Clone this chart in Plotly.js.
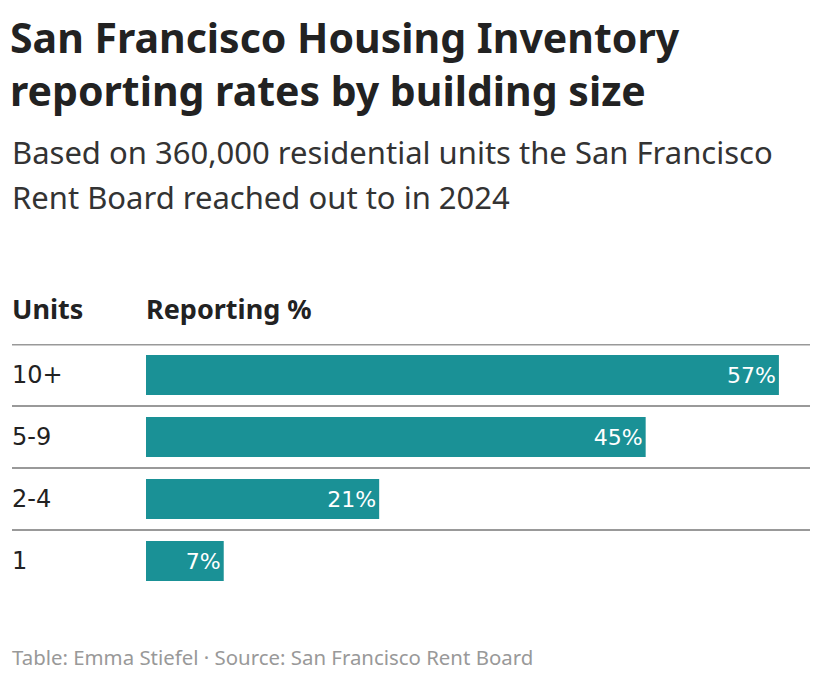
<!DOCTYPE html>
<html>
<head>
<meta charset="utf-8">
<script src="https://cdn.plot.ly/plotly-3.0.1.min.js"></script>
<style>
  html, body { margin: 0; padding: 0; background: #fff; }
  #chart { width: 820px; height: 684px; }
</style>
</head>
<body>
<div id="chart"></div>
<script>
var units = ['10+', '5-9', '2-4', '1'];
var reportingPct = [57, 45, 21, 7];
var colHeaders = ['Units', 'Reporting %'];
var subtitleLines = ['Based on 360,000 residential units the San Francisco', 'Rent Board reached out to in 2024'];

var W = 820, H = 684;
var plotLeft = 146, plotRight = 810, plotTop = 344, plotBottom = 592;
var plotW = plotRight - plotLeft, plotH = plotBottom - plotTop;

// helpers: page pixels -> paper coords
function px(x) { return (x - plotLeft) / plotW; }
function py(y) { return (plotBottom - y) / plotH; }

var bars = {
    type: 'bar',
    orientation: 'h',
    y: units,
    x: reportingPct,
    width: 0.645,
    marker: { color: '#1a9196' },
    texttemplate: '%{x}%',
    textposition: 'inside',
    insidetextanchor: 'end',
    constraintext: 'none',
    textfont: { family: 'DejaVu Sans', size: 22, color: '#fff' },
    hoverinfo: 'skip'
};

var shapes = [];
// thick header rule
shapes.push({ type: 'line', xref: 'paper', yref: 'y', x0: px(12), x1: 1, y0: -0.5, y1: -0.5,
    line: { color: '#999', width: 3 } });
for (var i = 0; i < units.length - 1; i++) {
    shapes.push({ type: 'line', xref: 'paper', yref: 'y', x0: px(12), x1: 1, y0: i + 0.5, y1: i + 0.5,
        line: { color: '#999', width: 2 } });
}

var annotations = [];
units.forEach(function(u, i) {
    annotations.push({ text: u, xref: 'paper', yref: 'y', x: px(10), y: i, xanchor: 'left', yanchor: 'middle',
        showarrow: false, font: { family: 'DejaVu Sans', size: 24, color: '#222' } });
});
annotations.push({ text: '<b>' + colHeaders[0] + '</b>', xref: 'paper', yref: 'paper', x: px(10), y: py(308),
    xanchor: 'left', yanchor: 'middle', showarrow: false, font: { family: 'Noto Sans', size: 27, color: '#222' } });
annotations.push({ text: '<b>' + colHeaders[1] + '</b>', xref: 'paper', yref: 'paper', x: px(144), y: py(308),
    xanchor: 'left', yanchor: 'middle', showarrow: false, font: { family: 'Noto Sans', size: 27, color: '#222' } });
// subtitle lines are spaced 45px apart, wider than plotly's own line height
subtitleLines.forEach(function(line, i) {
    annotations.push({ text: line, xref: 'paper', yref: 'paper', x: px(10), y: py(152 + i * 45),
        xanchor: 'left', yanchor: 'middle', showarrow: false,
        font: { family: 'Noto Sans', size: 31, color: '#333' } });
});
annotations.push({ text: 'Table: Emma Stiefel · Source: San Francisco Rent Board',
    xref: 'paper', yref: 'paper', x: px(10), y: py(657), xanchor: 'left', yanchor: 'middle',
    showarrow: false, font: { family: 'Noto Sans', size: 20.4, color: '#999' } });

var layout = {
    width: W,
    height: H,
    margin: { l: plotLeft, r: W - plotRight, t: plotTop, b: H - plotBottom, pad: 0 },
    title: {
        text: '<b>San Francisco Housing Inventory<br>reporting rates by building size</b>',
        xref: 'container', yref: 'container',
        x: 10 / W, xanchor: 'left',
        y: 1 - 53 / H, yanchor: 'top',
        font: { family: 'Noto Sans', size: 41, color: '#222' }
    },
    xaxis: { range: [0, 59.8], visible: false, fixedrange: true },
    yaxis: { type: 'category', range: [3.5, -0.5], showticklabels: false, showgrid: false,
        zeroline: false, showline: false, ticks: '', fixedrange: true },
    showlegend: false,
    shapes: shapes,
    annotations: annotations,
    plot_bgcolor: '#fff',
    paper_bgcolor: '#fff',
    hovermode: false
};

Plotly.newPlot('chart', [bars], layout, { displayModeBar: false, staticPlot: true });
</script>
</body>
</html>
